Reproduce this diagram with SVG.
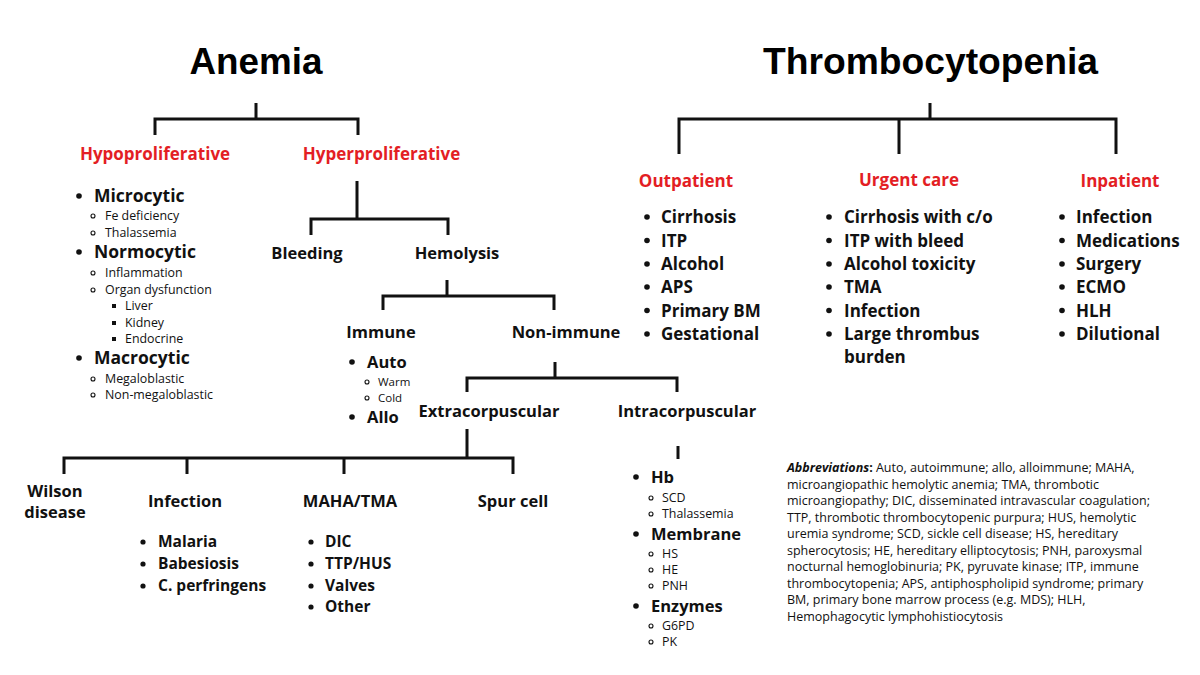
<svg xmlns="http://www.w3.org/2000/svg" width="1200" height="675" viewBox="0 0 1200 675">
<defs>
<style>
text{font-family:"Open Sans","Noto Sans",sans-serif;fill:#111}
.title{font-family:"Liberation Sans",Arial,sans-serif;font-weight:700;font-size:36px;text-anchor:middle;fill:#000}
.red{font-weight:700;font-size:17px;fill:#e31e24;text-anchor:middle}
.lbl{font-weight:700;font-size:16.5px;text-anchor:middle}
.b1{font-weight:700;font-size:17.5px}
.b2{font-weight:700;font-size:16.5px}
.b3{font-weight:700;font-size:17px}
.b4{font-weight:700;font-size:15.5px}
.s1{font-size:12.4px}
.s2{font-size:11.5px}
.abbr{font-size:12.5px}
.dot{fill:#111}
.ring{fill:none;stroke:#111;stroke-width:1.1}
.sq{fill:#111}
.conn path{fill:none;stroke:#111;stroke-width:3}
</style>
</defs>
<rect width="1200" height="675" fill="#fff"/>

<g class="conn" id="connectors">
<path d="M256,103V119M155,135V119H358V135"/>
<path d="M357,181V219M311,235V219H448V235"/>
<path d="M447,280V296M383,310V296H554V310"/>
<path d="M555,362V378M467,392V378H677V392"/>
<path d="M467,429V458M64,474V458H513V474M187,458V474M344,458V474"/>
<path d="M678,446V459"/>
<path d="M930,103V119M679,154V119H1116V154M899,119V154"/>
</g>

<g id="anemia"><text class="title" x="256" y="74" textLength="133" lengthAdjust="spacingAndGlyphs">Anemia</text></g>
<g id="thrombocytopenia"><text class="title" x="930.5" y="74" textLength="335" lengthAdjust="spacingAndGlyphs">Thrombocytopenia</text></g>

<g id="hypoproliferative">
<text class="red" x="155" y="160">Hypoproliferative</text>
<circle class="dot" cx="79" cy="196" r="2.8"/><text class="b1" x="94" y="202">Microcytic</text>
<circle class="ring" cx="93" cy="216" r="2"/><text class="s1" x="105" y="220">Fe deficiency</text>
<circle class="ring" cx="93" cy="233" r="2"/><text class="s1" x="105" y="237">Thalassemia</text>
<circle class="dot" cx="79" cy="252" r="2.8"/><text class="b1" x="94" y="258">Normocytic</text>
<circle class="ring" cx="93" cy="273" r="2"/><text class="s1" x="105" y="277">Inflammation</text>
<circle class="ring" cx="93" cy="290" r="2"/><text class="s1" x="105" y="294">Organ dysfunction</text>
<rect class="sq" x="112" y="304" width="4" height="4"/><text class="s1" x="125" y="310">Liver</text>
<rect class="sq" x="112" y="321" width="4" height="4"/><text class="s1" x="125" y="327">Kidney</text>
<rect class="sq" x="112" y="337" width="4" height="4"/><text class="s1" x="125" y="343">Endocrine</text>
<circle class="dot" cx="79" cy="358" r="2.8"/><text class="b1" x="94" y="364">Macrocytic</text>
<circle class="ring" cx="93" cy="379" r="2"/><text class="s1" x="105" y="383">Megaloblastic</text>
<circle class="ring" cx="93" cy="395" r="2"/><text class="s1" x="105" y="399">Non-megaloblastic</text>
</g>

<g id="hyperproliferative"><text class="red" x="381.5" y="160">Hyperproliferative</text></g>
<g id="bleeding"><text class="lbl" x="307" y="259">Bleeding</text></g>
<g id="hemolysis"><text class="lbl" x="457" y="259">Hemolysis</text></g>

<g id="immune">
<text class="lbl" x="381" y="338">Immune</text>
<circle class="dot" cx="352" cy="362" r="2.8"/><text class="b2" x="367" y="368">Auto</text>
<circle class="ring" cx="367" cy="382" r="2"/><text class="s2" x="378" y="386">Warm</text>
<circle class="ring" cx="367" cy="398" r="2"/><text class="s2" x="378" y="402">Cold</text>
<circle class="dot" cx="352" cy="417" r="2.8"/><text class="b2" x="367" y="423">Allo</text>
</g>
<g id="non-immune"><text class="lbl" x="566" y="338">Non-immune</text></g>
<g id="extracorpuscular"><text class="lbl" x="489" y="417">Extracorpuscular</text></g>

<g id="intracorpuscular">
<text class="lbl" x="687" y="417">Intracorpuscular</text>
<circle class="dot" cx="636" cy="477" r="2.8"/><text class="b2" x="651" y="483">Hb</text>
<circle class="ring" cx="651" cy="498" r="2"/><text class="s1" x="662" y="502">SCD</text>
<circle class="ring" cx="651" cy="514" r="2"/><text class="s1" x="662" y="518">Thalassemia</text>
<circle class="dot" cx="636" cy="534" r="2.8"/><text class="b2" x="651" y="540">Membrane</text>
<circle class="ring" cx="651" cy="554" r="2"/><text class="s1" x="662" y="558">HS</text>
<circle class="ring" cx="651" cy="570" r="2"/><text class="s1" x="662" y="574">HE</text>
<circle class="ring" cx="651" cy="586" r="2"/><text class="s1" x="662" y="590">PNH</text>
<circle class="dot" cx="636" cy="606" r="2.8"/><text class="b2" x="651" y="612">Enzymes</text>
<circle class="ring" cx="651" cy="626" r="2"/><text class="s1" x="662" y="630">G6PD</text>
<circle class="ring" cx="651" cy="642" r="2"/><text class="s1" x="662" y="646">PK</text>
</g>

<g id="wilson"><text class="lbl" x="55" y="497">Wilson</text><text class="lbl" x="55" y="518">disease</text></g>

<g id="infection">
<text class="lbl" x="185" y="507">Infection</text>
<circle class="dot" cx="143" cy="542" r="2.6"/><text class="b4" x="158" y="547">Malaria</text>
<circle class="dot" cx="143" cy="564" r="2.6"/><text class="b4" x="158" y="569">Babesiosis</text>
<circle class="dot" cx="143" cy="586" r="2.6"/><text class="b4" x="158" y="591">C. perfringens</text>
</g>

<g id="maha-tma">
<text class="lbl" x="350" y="507">MAHA/TMA</text>
<circle class="dot" cx="311" cy="542" r="2.6"/><text class="b4" x="325" y="547">DIC</text>
<circle class="dot" cx="311" cy="564" r="2.6"/><text class="b4" x="325" y="569">TTP/HUS</text>
<circle class="dot" cx="311" cy="586" r="2.6"/><text class="b4" x="325" y="591">Valves</text>
<circle class="dot" cx="311" cy="607" r="2.6"/><text class="b4" x="325" y="612">Other</text>
</g>

<g id="spur-cell"><text class="lbl" x="513" y="507">Spur cell</text></g>

<g id="outpatient">
<text class="red" x="686" y="187">Outpatient</text>
<circle class="dot" cx="647" cy="217" r="2.8"/><text class="b3" x="661" y="223">Cirrhosis</text>
<circle class="dot" cx="647" cy="240.5" r="2.8"/><text class="b3" x="661" y="246.5">ITP</text>
<circle class="dot" cx="647" cy="264" r="2.8"/><text class="b3" x="661" y="270">Alcohol</text>
<circle class="dot" cx="647" cy="287" r="2.8"/><text class="b3" x="661" y="293">APS</text>
<circle class="dot" cx="647" cy="310.5" r="2.8"/><text class="b3" x="661" y="316.5">Primary BM</text>
<circle class="dot" cx="647" cy="334" r="2.8"/><text class="b3" x="661" y="340">Gestational</text>
</g>

<g id="urgent-care">
<text class="red" x="909" y="186">Urgent care</text>
<circle class="dot" cx="829" cy="217" r="2.8"/><text class="b3" x="844" y="223">Cirrhosis with c/o</text>
<circle class="dot" cx="829" cy="240.5" r="2.8"/><text class="b3" x="844" y="246.5">ITP with bleed</text>
<circle class="dot" cx="829" cy="264" r="2.8"/><text class="b3" x="844" y="270">Alcohol toxicity</text>
<circle class="dot" cx="829" cy="287" r="2.8"/><text class="b3" x="844" y="293">TMA</text>
<circle class="dot" cx="829" cy="310.5" r="2.8"/><text class="b3" x="844" y="316.5">Infection</text>
<circle class="dot" cx="829" cy="334" r="2.8"/><text class="b3" x="844" y="340">Large thrombus</text>
<text class="b3" x="844" y="363">burden</text>
</g>

<g id="inpatient">
<text class="red" x="1120" y="187">Inpatient</text>
<circle class="dot" cx="1062" cy="217" r="2.8"/><text class="b3" x="1076" y="223">Infection</text>
<circle class="dot" cx="1062" cy="240.5" r="2.8"/><text class="b3" x="1076" y="246.5">Medications</text>
<circle class="dot" cx="1062" cy="264" r="2.8"/><text class="b3" x="1076" y="270">Surgery</text>
<circle class="dot" cx="1062" cy="287" r="2.8"/><text class="b3" x="1076" y="293">ECMO</text>
<circle class="dot" cx="1062" cy="310.5" r="2.8"/><text class="b3" x="1076" y="316.5">HLH</text>
<circle class="dot" cx="1062" cy="334" r="2.8"/><text class="b3" x="1076" y="340">Dilutional</text>
</g>

<g id="abbreviations">
<text class="abbr" x="787" y="472"><tspan font-weight="700" font-style="italic">Abbreviations</tspan><tspan font-weight="700">:</tspan> Auto, autoimmune; allo, alloimmune; MAHA,</text>
<text class="abbr" x="787" y="488.5">microangiopathic hemolytic anemia; TMA, thrombotic</text>
<text class="abbr" x="787" y="505">microangiopathy; DIC, disseminated intravascular coagulation;</text>
<text class="abbr" x="787" y="521.5">TTP, thrombotic thrombocytopenic purpura; HUS, hemolytic</text>
<text class="abbr" x="787" y="538">uremia syndrome; SCD, sickle cell disease; HS, hereditary</text>
<text class="abbr" x="787" y="554.5">spherocytosis; HE, hereditary elliptocytosis; PNH, paroxysmal</text>
<text class="abbr" x="787" y="571">nocturnal hemoglobinuria; PK, pyruvate kinase; ITP, immune</text>
<text class="abbr" x="787" y="587.5">thrombocytopenia; APS, antiphospholipid syndrome; primary</text>
<text class="abbr" x="787" y="604">BM, primary bone marrow process (e.g. MDS); HLH,</text>
<text class="abbr" x="787" y="620.5">Hemophagocytic lymphohistiocytosis</text>
</g>
</svg>
